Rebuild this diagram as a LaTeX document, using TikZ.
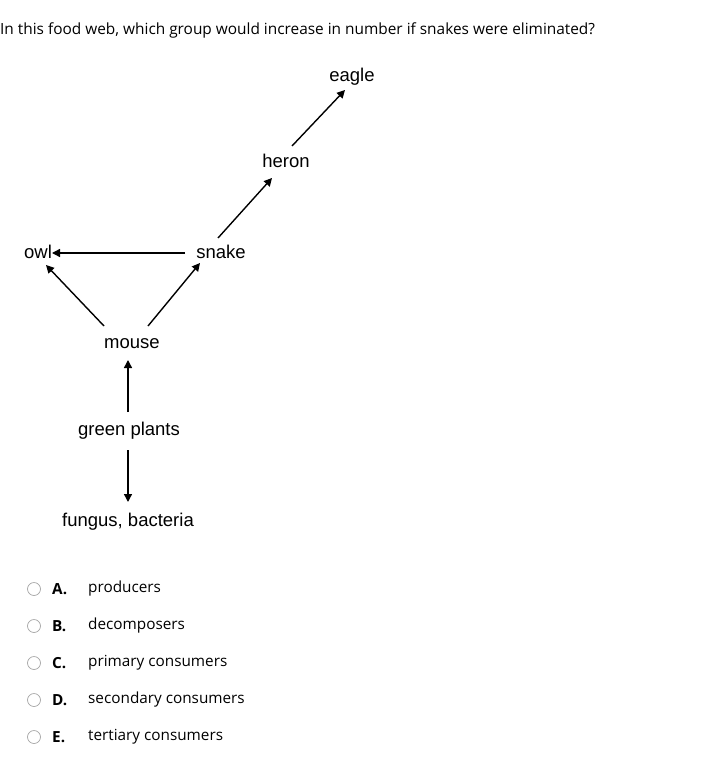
\documentclass[tikz,border=0pt]{standalone}
\usepackage{fontspec}
\setmainfont{Open Sans}
\newfontfamily\arial{Liberation Sans}
\usetikzlibrary{arrows.meta}
\begin{document}
\begin{tikzpicture}[x=1pt,y=-1pt,
  lab/.style={font=\arial\fontsize{18.5}{22}\selectfont,inner sep=1pt},
  arr/.style={line width=1.4pt,-{Triangle[length=8pt,width=8pt]}},
  opt/.style={font=\fontsize{15.3}{18}\selectfont,anchor=west,inner sep=0pt},
  rad/.style={circle,draw=gray!70,line width=0.7pt,minimum size=13pt,inner sep=0pt}]
\useasboundingbox (0,0) rectangle (702,757);
\node[anchor=west,inner sep=0pt,font=\fontsize{15.4}{18}\selectfont] (q) at (0,30) {In this food web, which group would increase in number if snakes were eliminated?};
\node[lab] (eagle) at (352,77) {eagle};
\node[lab] (heron) at (286,161) {heron};
\node[lab] (owl) at (38,252) {owl};
\node[lab] (snake) at (221,252) {snake};
\node[lab] (mouse) at (132,344) {mouse};
\node[lab] (plants) at (129,431) {green plants};
\node[lab] (fungus) at (128,522) {fungus, bacteria};
\coordinate (a1) at (292,146); \coordinate (a2) at (345,90);
\coordinate (b1) at (218,238); \coordinate (b2) at (272,178);
\coordinate (c1) at (185,253); \coordinate (c2) at (52,253);
\coordinate (d1) at (104,326); \coordinate (d2) at (46,265);
\coordinate (e1) at (148,326); \coordinate (e2) at (200,263);
\coordinate (f1) at (128,412); \coordinate (f2) at (128,360);
\coordinate (g1) at (128,450); \coordinate (g2) at (128,502);
\draw[arr] (a1) -- (a2);
\draw[arr] (b1) -- (b2);
\draw[arr] (c1) -- (c2);
\draw[arr] (d1) -- (d2);
\draw[arr] (e1) -- (e2);
\draw[arr] (f1) -- (f2);
\draw[arr] (g1) -- (g2);
\foreach \y/\l/\t [count=\i] in {589/A./producers,626/B./decomposers,663/C./primary consumers,700/D./secondary consumers,737/E./tertiary consumers}{
  \node[rad] (r\i) at (34,\y) {};
  \node[opt,font=\fontsize{15.3}{18}\selectfont\bfseries] (l\i) at (52,\y) {\l};
  \node[opt] (t\i) at (88,\y) {\t};
}
\end{tikzpicture}
\end{document}
